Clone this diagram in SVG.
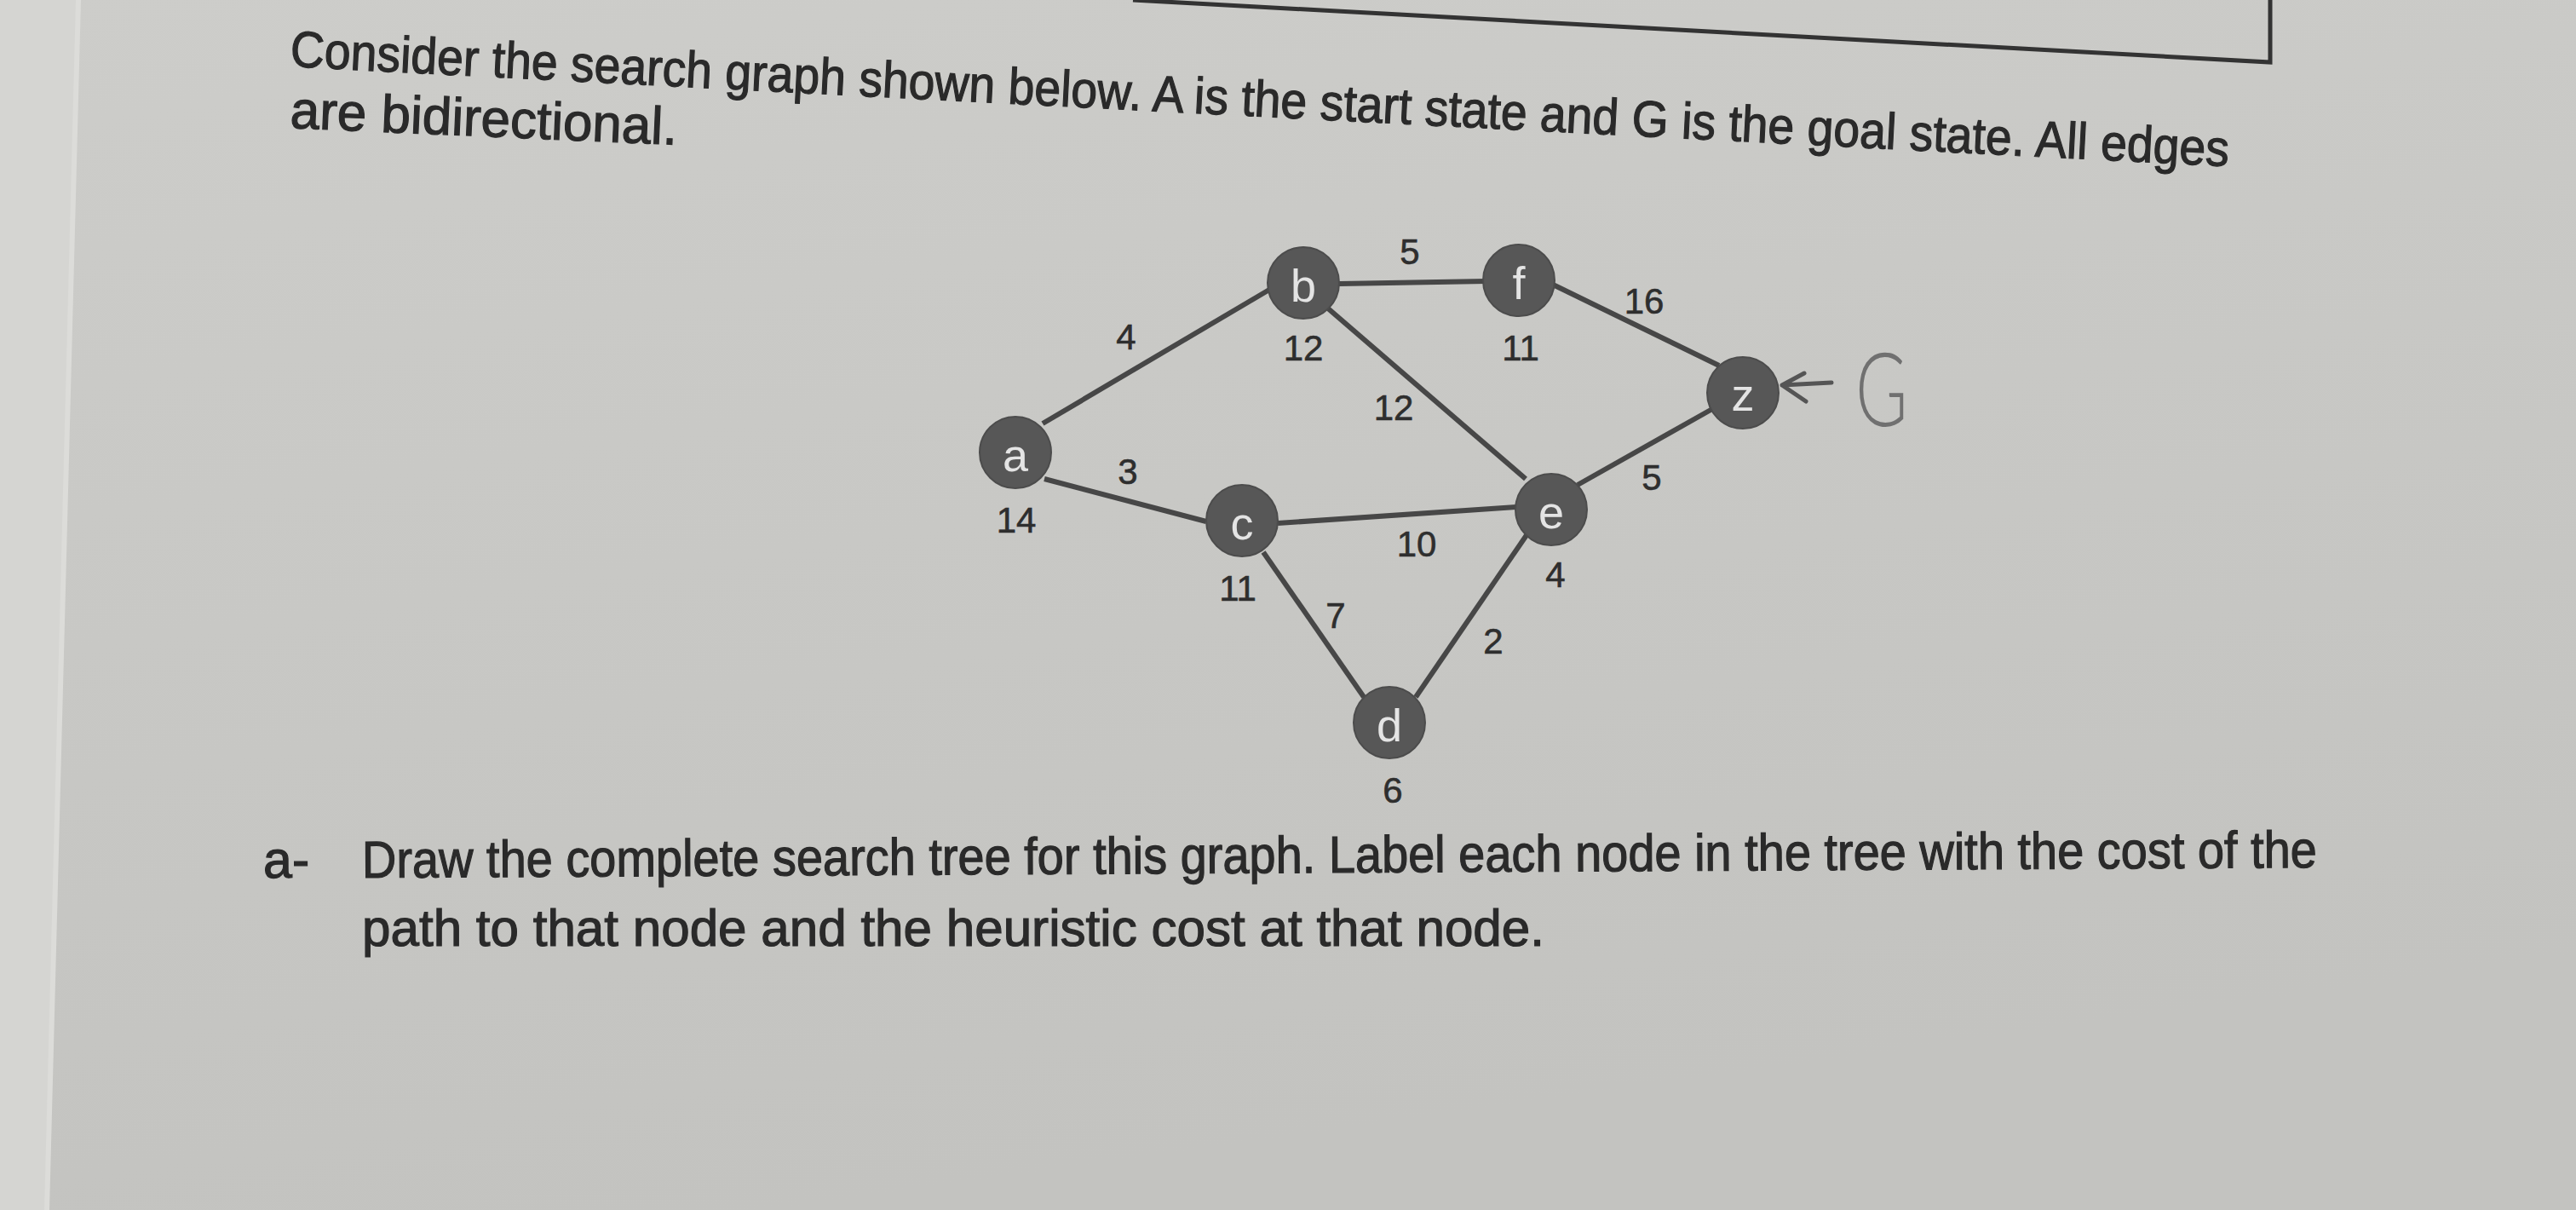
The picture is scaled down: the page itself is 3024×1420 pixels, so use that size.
<svg xmlns="http://www.w3.org/2000/svg" width="3024" height="1420" viewBox="0 0 3024 1420">
  <defs>
    <linearGradient id="paper" x1="0" y1="0" x2="0.3" y2="1">
      <stop offset="0" stop-color="#cdcdca"/>
      <stop offset="1" stop-color="#c3c3c0"/>
    </linearGradient>
    <style>
      .txt { font-family: "Liberation Sans", Arial, sans-serif; fill: #2a2a2a; stroke: #2a2a2a; stroke-width: 1.2; }
      .num { font-family: "Liberation Sans", Arial, sans-serif; font-size: 42px; fill: #2e2e2e; stroke: #2e2e2e; stroke-width: 0.6; text-anchor: middle; }
      .node circle { fill: #575757; stroke: #4c4c4c; stroke-width: 2; }
      .node .lbl { font-family: "Liberation Sans", Arial, sans-serif; font-size: 54px; fill: #e4e4e4; text-anchor: middle; }
      .edge { stroke: #474747; stroke-width: 6; stroke-linecap: butt; fill: none; }
    </style>
  </defs>

  <!-- paper background -->
  <rect x="0" y="0" width="3024" height="1420" fill="url(#paper)"/>
  <polygon points="0,0 92,0 55,1420 0,1420" fill="#d5d5d2"/>
  <line x1="92" y1="0" x2="55" y2="1420" stroke="#dcdcd9" stroke-width="6"/>

  <!-- box edge at top -->
  <polyline points="1330,0 2665,73 2665,0" fill="none" stroke="#333333" stroke-width="5"/>

  <!-- header text -->
  <text class="txt" x="340" y="78" font-size="60" textLength="2279" lengthAdjust="spacingAndGlyphs" transform="rotate(2.95 340 78)">Consider the search graph shown below. A is the start state and G is the goal state. All edges</text>
  <text class="txt" x="340" y="150" font-size="62" transform="rotate(2.5 340 150)">are bidirectional.</text>

  <!-- connectors -->
  <g id="edges">
    <line class="edge" x1="1224" y1="497" x2="1490" y2="340"/>
    <line class="edge" x1="1226" y1="562" x2="1416" y2="612"/>
    <line class="edge" x1="1572" y1="333" x2="1745" y2="330"/>
    <line class="edge" x1="1559" y1="362" x2="1791" y2="562"/>
    <line class="edge" x1="1821" y1="333" x2="2018" y2="429"/>
    <line class="edge" x1="1852" y1="569" x2="2010" y2="480"/>
    <line class="edge" x1="1500" y1="614" x2="1780" y2="595"/>
    <line class="edge" x1="1483" y1="648" x2="1601" y2="818"/>
    <line class="edge" x1="1662" y1="818" x2="1792" y2="628"/>
  </g>

  <!-- edge weights -->
  <g id="weights">
    <text class="num" x="1655" y="310">5</text>
    <text class="num" x="1930" y="368">16</text>
    <text class="num" x="1322" y="410">4</text>
    <text class="num" x="1636" y="493">12</text>
    <text class="num" x="1324" y="568">3</text>
    <text class="num" x="1939" y="575">5</text>
    <text class="num" x="1663" y="653">10</text>
    <text class="num" x="1568" y="737">7</text>
    <text class="num" x="1753" y="767">2</text>
  </g>

  <!-- nodes -->
  <g id="node-a" class="node"><circle cx="1192" cy="531" r="42"/><text class="lbl" x="1192" y="553">a</text><text class="num" x="1193" y="625">14</text></g>
  <g id="node-b" class="node"><circle cx="1530" cy="332" r="42"/><text class="lbl" x="1530" y="354">b</text><text class="num" x="1530" y="423">12</text></g>
  <g id="node-f" class="node"><circle cx="1783" cy="329" r="42"/><text class="lbl" x="1783" y="351">f</text><text class="num" x="1785" y="423">11</text></g>
  <g id="node-z" class="node"><circle cx="2046" cy="461" r="42"/><text class="lbl" x="2046" y="482">z</text></g>
  <g id="node-c" class="node"><circle cx="1458" cy="611" r="42"/><text class="lbl" x="1458" y="633">c</text><text class="num" x="1453" y="705">11</text></g>
  <g id="node-e" class="node"><circle cx="1821" cy="598" r="42"/><text class="lbl" x="1821" y="620">e</text><text class="num" x="1826" y="689">4</text></g>
  <g id="node-d" class="node"><circle cx="1631" cy="848" r="42"/><text class="lbl" x="1631" y="870">d</text><text class="num" x="1635" y="942">6</text></g>

  <!-- handwritten goal mark -->
  <g id="goal-mark">
    <path d="M2150,449 L2092,452 M2118,438 L2092,452 L2120,471" fill="none" stroke="#555555" stroke-width="5" stroke-linecap="round" stroke-linejoin="round"/>
    <text x="2178" y="500" font-family="Lato, 'Liberation Sans', sans-serif" font-weight="300" font-size="120" fill="#707070" transform="translate(2178 0) scale(0.7 1) translate(-2178 0)">G</text>
  </g>

  <!-- question text -->
  <text class="txt" x="309" y="1030" font-size="61" transform="rotate(-0.3 309 1030)">a-</text>
  <text class="txt" x="425" y="1030" font-size="61" textLength="2295" lengthAdjust="spacingAndGlyphs" transform="rotate(-0.3 425 1030)">Draw the complete search tree for this graph. Label each node in the tree with the cost of the</text>
  <text class="txt" x="425" y="1110" font-size="61" textLength="1388" lengthAdjust="spacingAndGlyphs">path to that node and the heuristic cost at that node.</text>
</svg>
